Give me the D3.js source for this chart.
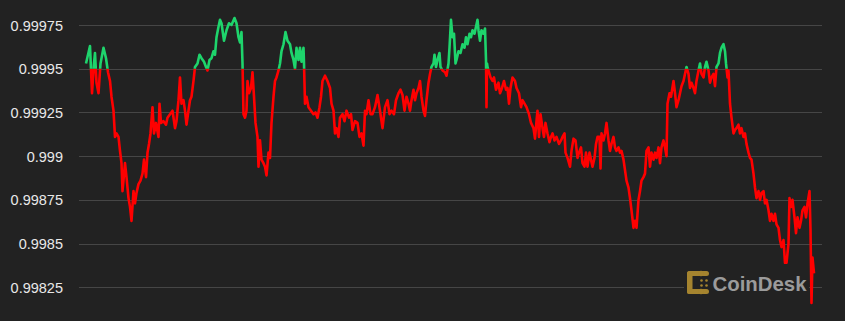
<!DOCTYPE html>
<html>
<head>
<meta charset="utf-8">
<script src="https://cdn.jsdelivr.net/npm/d3@7"></script>
<style>
  html, body { margin: 0; padding: 0; background: #222222; }
  svg { display: block; }
</style>
</head>
<body>
<svg id="chart" width="845" height="321"></svg>
<script>
// ---- data (minutes since start, price) ----
const times = [2,10,14,18,20,23,27,31,37,42,46,50,53,57,60,63,67,70,73,75,80,83,87,90,93,97,100,103,107,111,115,118,122,125,128,131,135,138,142,147,149,152,157,162,165,170,175,180,183,187,190,193,197,200,203,207,210,213,217,220,225,229,233,238,242,245,249,253,257,260,263,267,270,273,278,
283,288,293,299,303,307,310,313,315,317,320,323,325,328,332,335,338,341,345,347,350,353,357,360,363,367,370,373,377,380,383,387,390,393,397,401,405,410,413,417,420,423,427,430,433,437,438,440,443,447,452,457,461,465,469,472,475,480,485,490,493,497,500,503,507,510,515,519,523,528,532,535,540,545,549,553,557,560,563,567,571,
575,580,585,590,595,600,605,609,613,618,622,627,631,635,639,643,647,650,653,657,660,663,667,670,673,677,680,683,687,690,693,697,699,702,705,709,711,715,720,723,727,729,732,735,738,741,743,747,751,755,759,762,765,769,772,775,779,782,785,787,790,793,797,800,802,803,804,805,809,811,815,818,822,827,830,834,838,842,845,848,851,855,860,
863,868,872,875,879,883,888,892,897,900,903,905,908,911,915,918,921,925,929,932,935,939,943,948,952,955,959,961,965,970,973,977,981,985,988,992,995,999,1002,1005,1009,1012,1015,1019,1022,1025,1029,1031,1033,1037,1040,1043,1047,1050,1053,1057,1060,1063,1067,1070,1073,1077,1080,1083,1087,1090,1093,1097,1100,1103,1107,1110,1113,1117,1120,1123,1127,1130,1133,1137,1140,1143,1147,1150,1153,1157,1160,1163,1165,1169,1172,1177,1180,1183,1187,1190,1193,1197,1200,1203,1207,1210,1213,1217,1220,1223,1227,1230,1233,1237,1240,1243,1247,1250,1253,1257,1260,1263,1267,1270,1273,1277,1280,1282,1285,1287,1290,1293,1297,1300,1303,1307,1310,1313,1317,1320,1323,1327,1330,1333,1337,1340,1343,1347,1350,1353,1357,1360,1363,1367,1370,1373,1377,1380,1383,1387,1390,1393,1397,1400,1403,1407,1409,1412,1415,1419,1422,1425,1429,1432,1435,1439,1442,1445,1449,1451,1453,1455,1458];

const prices = [0.99953,0.99963,0.99936,0.99953,0.99959,0.99942,0.99936,0.99953,0.99962,0.99956,0.99948,0.99943,0.99934,0.99926,0.99911,0.99913,0.99911,0.99903,0.99896,0.9988,0.99896,0.99888,0.99876,0.99871,0.99863,0.9988,0.99873,0.99879,0.99884,0.99886,0.9989,0.99898,0.99888,0.99902,0.99907,0.99913,0.99928,0.99913,0.99919,0.99911,0.9993,0.99919,0.9992,0.99918,0.99922,0.99924,0.99926,0.99916,0.9992,0.99932,0.99945,0.9993,0.99932,0.99926,0.99918,0.99926,0.99932,0.99934,0.99943,0.99951,0.99953,0.99958,0.99956,0.99954,0.99951,0.99949,0.99955,0.99956,0.9996,0.99958,0.99968,0.99974,0.99978,0.99976,0.99966,
0.99972,0.99976,0.99975,0.99979,0.99976,0.99968,0.99965,0.99971,0.99953,0.99924,0.99922,0.99926,0.99943,0.99936,0.99939,0.99948,0.99934,0.99919,0.99911,0.99894,0.99909,0.99898,0.99896,0.99894,0.99889,0.99902,0.99899,0.99919,0.99934,0.99943,0.99945,0.99949,0.99953,0.9996,0.99964,0.99971,0.99966,0.99964,0.99959,0.99955,0.9995,0.99962,0.99955,0.99962,0.99954,0.99962,0.99953,0.9993,0.99934,0.99928,0.99926,0.99924,0.99925,0.99922,0.99928,0.99934,0.99943,0.99946,0.99943,0.99939,0.9993,0.99926,0.99913,0.99916,0.99911,0.99922,0.99924,0.9992,0.99926,0.99922,0.99924,0.99915,0.9992,0.99919,0.99911,0.99913,0.99906,0.99926,0.99924,0.99932,0.99924,
0.99924,0.99928,0.99935,0.99926,0.99916,0.99928,0.99932,0.99924,0.99926,0.99924,0.99932,0.99936,0.99938,0.99935,0.99926,0.99934,0.9993,0.99926,0.99932,0.99938,0.99932,0.99936,0.99939,0.99943,0.99934,0.99926,0.99923,0.99932,0.99942,0.99947,0.99951,0.99953,0.99958,0.99951,0.99955,0.99959,0.99951,0.99949,0.99948,0.99946,0.99953,0.99962,0.99978,0.99968,0.9997,0.99953,0.99955,0.9996,0.99959,0.99964,0.99962,0.99968,0.99964,0.9997,0.99968,0.99972,0.9997,0.99974,0.99978,0.99972,0.99966,0.99972,0.9997,0.99973,0.99955,0.99928,0.99953,0.99951,0.99947,0.99945,0.99943,0.99945,0.99938,0.99942,0.99936,0.99939,0.99943,0.99938,0.99939,0.9993,0.99939,0.99945,0.99943,
0.99939,0.99936,0.99928,0.99932,0.9993,0.99928,0.99924,0.99919,0.99916,0.9991,0.9992,0.99926,0.99911,0.99924,0.99916,0.99911,0.99919,0.99913,0.99908,0.99911,0.99913,0.99909,0.99911,0.99907,0.99909,0.99911,0.99913,0.99902,0.99899,0.99894,0.99903,0.9991,0.99909,0.99899,0.99902,0.99905,0.99896,0.99894,0.99902,0.99894,0.99902,0.99898,0.99894,0.99899,0.99907,0.99911,0.99911,0.99893,0.99913,0.99909,0.99913,0.99919,0.99909,0.99903,0.99907,0.99911,0.99905,0.99903,0.99905,0.99902,0.99903,0.99898,0.99892,0.99886,0.99882,0.99876,0.99869,0.99859,0.99863,0.99859,0.99875,0.9988,0.99886,0.99888,0.9989,0.99903,0.99905,0.99894,0.99902,0.99898,0.99902,0.99899,0.99905,0.99896,0.99905,0.99909,0.99905,0.999,0.9993,0.99936,0.99934,0.99943,0.99936,0.99928,0.99932,0.99936,0.9994,0.99943,0.99947,0.99951,0.99947,0.99939,0.99942,0.99939,0.99936,0.99943,0.99949,0.99953,0.99947,0.99945,0.99951,0.99954,0.99949,0.99942,0.99945,0.99947,0.9994,0.99951,0.99953,0.99959,0.99962,0.99964,0.9996,0.99953,0.99945,0.99949,0.9993,0.99922,0.99913,0.99915,0.99916,0.99918,0.99913,0.99916,0.99911,0.99913,0.99907,0.99902,0.99899,0.99898,0.9989,0.99882,0.99876,0.9988,0.99875,0.99879,0.9988,0.99873,0.99875,0.99869,0.99863,0.99867,0.99863,0.99867,0.99861,0.99859,0.99852,0.99848,0.99852,0.99839,0.99839,0.9985,0.99876,0.99871,0.99875,0.99865,0.99856,0.99865,0.99859,0.99863,0.99869,0.99871,0.99865,0.99873,0.9988,0.99858,0.99816,0.99842,0.99833];

const tickValues = [0.99825, 0.9985, 0.99875, 0.999, 0.99925, 0.9995, 0.99975];
const tickLabels = ["0.99825", "0.9985", "0.99875", "0.999", "0.99925", "0.9995", "0.99975"];
const threshold = 0.9995;
const brandName = "CoinDesk";

// ---- layout ----
const svg = d3.select("#chart");
const W = 845, H = 321;
const plotLeft = 79, plotRight = 822;
const lineLeft = 85, lineRight = 814;

const x = d3.scaleLinear().domain([0, 1458]).range([lineLeft, lineRight]);
const y = d3.scaleLinear().domain([0.99825, 0.99975]).range([287.3, 25]);

svg.append("rect").attr("width", W).attr("height", H).attr("fill", "#222222");

// axis + gridlines
const axis = d3.axisLeft(y)
  .tickValues(tickValues)
  .tickFormat((d, i) => tickLabels[i])
  .tickSize(-(plotRight - plotLeft))
  .tickPadding(16);

const gAxis = svg.append("g")
  .attr("transform", `translate(${plotLeft},0)`)
  .call(axis);
gAxis.select(".domain").remove();
gAxis.selectAll(".tick line")
  .attr("stroke", "#464646")
  .attr("stroke-width", 1)
  .attr("shape-rendering", "crispEdges");
gAxis.selectAll(".tick text")
  .attr("fill", "#e8e8e8")
  .attr("font-family", "'Liberation Sans', Arial, Helvetica, sans-serif")
  .attr("font-size", "14.5px")
  .attr("dy", "0.35em");

// logo backdrop (covers gridline behind logo)
const logoG = svg.append("g");
logoG.append("rect")
  .attr("x", 684).attr("y", 268).attr("width", 125).attr("height", 30)
  .attr("fill", "#222222");

// icon
const gold = "#a5842f";
const ic = logoG.append("g").attr("fill", gold);
ic.append("rect").attr("x", 687).attr("y", 271).attr("width", 22).attr("height", 5).attr("rx", 2.5);
ic.append("rect").attr("x", 687).attr("y", 271).attr("width", 5.5).attr("height", 23).attr("rx", 2.5);
ic.append("rect").attr("x", 687).attr("y", 289).attr("width", 22).attr("height", 5).attr("rx", 2.5);
ic.append("circle").attr("cx", 701).attr("cy", 273.5).attr("r", 2.8);
ic.append("circle").attr("cx", 701).attr("cy", 291.5).attr("r", 2.8);
ic.append("circle").attr("cx", 701.5).attr("cy", 280.5).attr("r", 1.3);
ic.append("circle").attr("cx", 706.5).attr("cy", 280.5).attr("r", 1.3);
ic.append("circle").attr("cx", 701.5).attr("cy", 285.5).attr("r", 1.3);
ic.append("circle").attr("cx", 706.5).attr("cy", 285.5).attr("r", 1.3);

logoG.append("text")
  .attr("x", 712.5).attr("y", 291)
  .attr("fill", "#9b9b9b")
  .attr("font-family", "'Liberation Sans', Arial, Helvetica, sans-serif")
  .attr("font-weight", "bold")
  .attr("font-size", "21px")
  .attr("textLength", 94)
  .attr("lengthAdjust", "spacingAndGlyphs")
  .text(brandName);

// ---- price line, green above threshold, red below ----
const data = times.map((t, i) => ({ t, v: prices[i] }));
const line = d3.line().x(d => x(d.t)).y(d => y(d.v));
const yT = y(threshold);

const defs = svg.append("defs");
defs.append("clipPath").attr("id", "clipAbove")
  .append("rect").attr("x", 0).attr("y", 0).attr("width", W).attr("height", yT);
defs.append("clipPath").attr("id", "clipBelow")
  .append("rect").attr("x", 0).attr("y", yT).attr("width", W).attr("height", H - yT);

svg.append("path").datum(data)
  .attr("d", line)
  .attr("fill", "none")
  .attr("stroke", "#ff0000")
  .attr("stroke-width", 2.6)
  .attr("stroke-linejoin", "round")
  .attr("clip-path", "url(#clipBelow)");

svg.append("path").datum(data)
  .attr("d", line)
  .attr("fill", "none")
  .attr("stroke", "#1ed46c")
  .attr("stroke-width", 2.6)
  .attr("stroke-linejoin", "round")
  .attr("clip-path", "url(#clipAbove)");
</script>
</body>
</html>
